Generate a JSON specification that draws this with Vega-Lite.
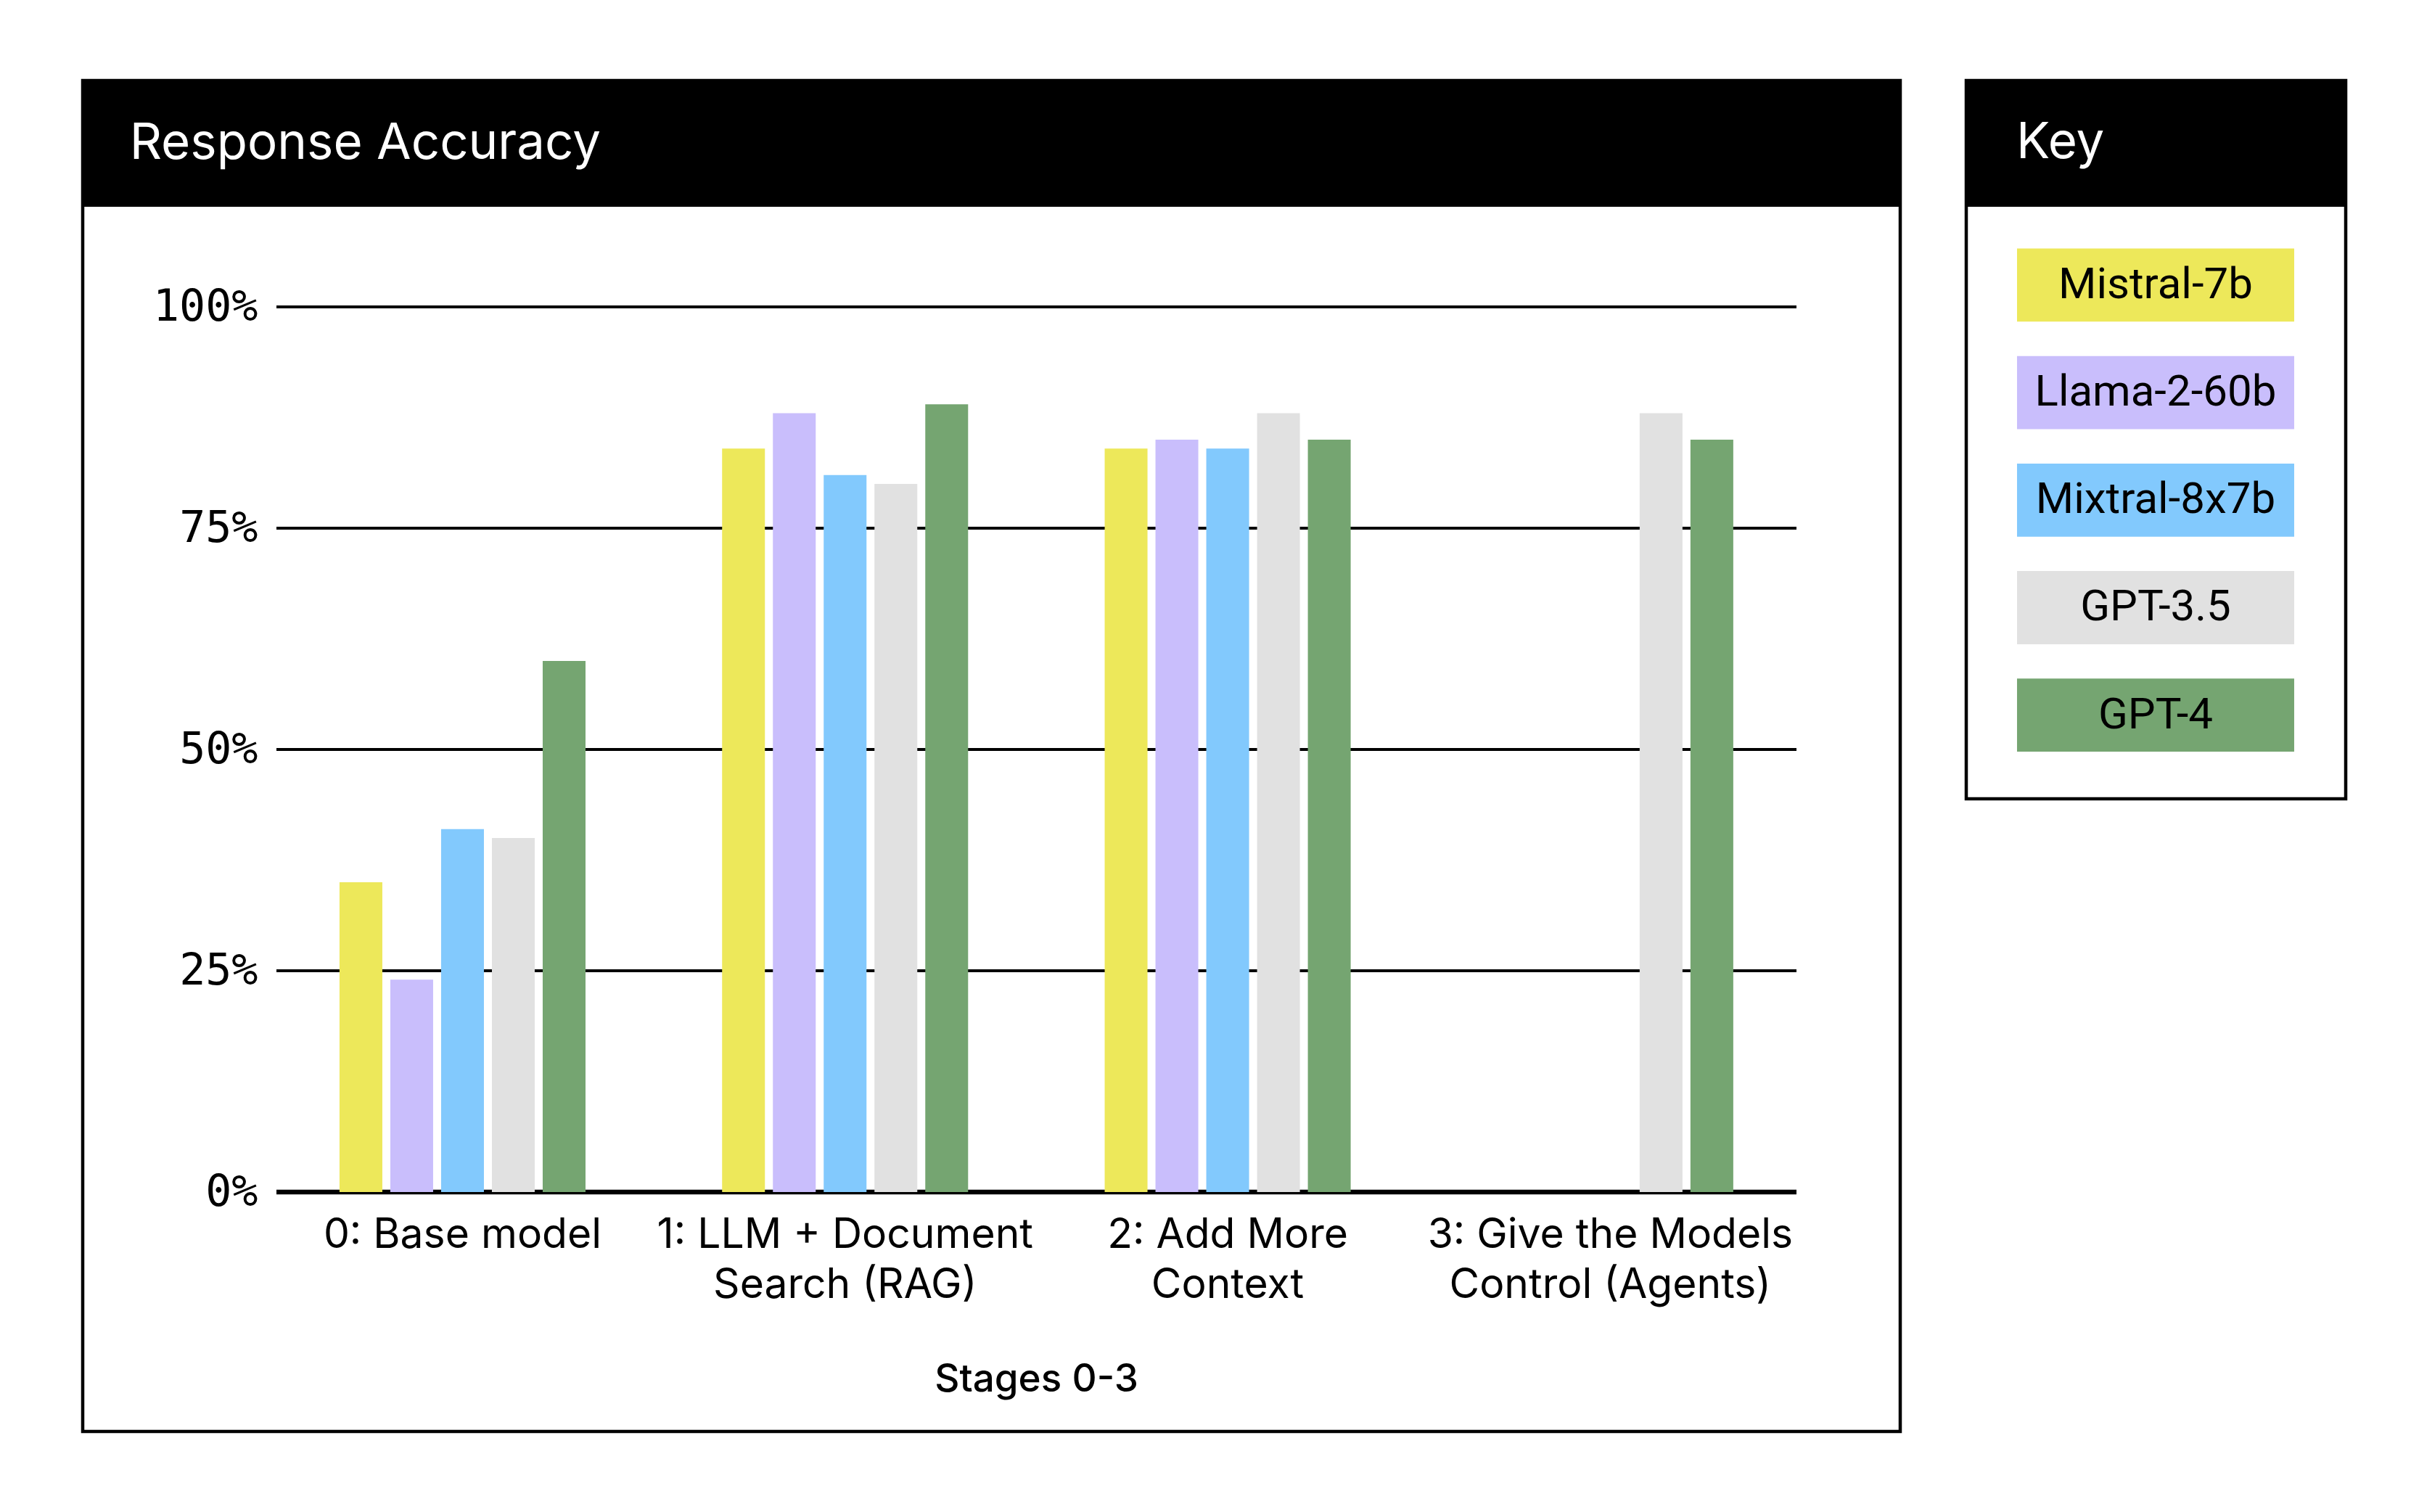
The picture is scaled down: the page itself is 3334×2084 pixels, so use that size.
{
  "$schema": "https://vega.github.io/schema/vega-lite/v6.json",
  "background": "white",
  "padding": {"left": 111, "top": 108, "right": 5, "bottom": 5},
  "spacing": 85,
  "datasets": {
    "scores": [
      {"stage": "0: Base model", "model": "Mistral-7b", "accuracy": 35},
      {"stage": "0: Base model", "model": "Llama-2-60b", "accuracy": 24},
      {"stage": "0: Base model", "model": "Mixtral-8x7b", "accuracy": 41},
      {"stage": "0: Base model", "model": "GPT-3.5", "accuracy": 40},
      {"stage": "0: Base model", "model": "GPT-4", "accuracy": 60},
      {"stage": "1: LLM + Document Search (RAG)", "model": "Mistral-7b", "accuracy": 84},
      {"stage": "1: LLM + Document Search (RAG)", "model": "Llama-2-60b", "accuracy": 88},
      {"stage": "1: LLM + Document Search (RAG)", "model": "Mixtral-8x7b", "accuracy": 81},
      {"stage": "1: LLM + Document Search (RAG)", "model": "GPT-3.5", "accuracy": 80},
      {"stage": "1: LLM + Document Search (RAG)", "model": "GPT-4", "accuracy": 89},
      {"stage": "2: Add More Context", "model": "Mistral-7b", "accuracy": 84},
      {"stage": "2: Add More Context", "model": "Llama-2-60b", "accuracy": 85},
      {"stage": "2: Add More Context", "model": "Mixtral-8x7b", "accuracy": 84},
      {"stage": "2: Add More Context", "model": "GPT-3.5", "accuracy": 88},
      {"stage": "2: Add More Context", "model": "GPT-4", "accuracy": 85},
      {"stage": "3: Give the Models Control (Agents)", "model": "GPT-3.5", "accuracy": 88},
      {"stage": "3: Give the Models Control (Agents)", "model": "GPT-4", "accuracy": 85}
    ],
    "ticks": [{"pct": 0}, {"pct": 25}, {"pct": 50}, {"pct": 75}, {"pct": 100}],
    "models": [
      {"model": "Mistral-7b"},
      {"model": "Llama-2-60b"},
      {"model": "Mixtral-8x7b"},
      {"model": "GPT-3.5"},
      {"model": "GPT-4"}
    ]
  },
  "hconcat": [
    {
      "width": 2505,
      "height": 1862,
      "layer": [
        {
          "data": {"values": [{}]},
          "mark": {"type": "rect", "color": "black"},
          "encoding": {
            "y": {"datum": 125.574, "type": "quantitative", "scale": {"domain": [-27.049, 125.574], "nice": false}, "axis": null},
            "y2": {"datum": 111.31}
          }
        },
        {
          "data": {"name": "ticks"},
          "mark": {"type": "rule", "color": "black"},
          "encoding": {
            "x": {"datum": 0, "type": "quantitative", "scale": {"domain": [-12.745, 106.826], "nice": false}, "axis": null},
            "x2": {"datum": 100},
            "y": {"field": "pct", "type": "quantitative", "scale": {"domain": [-27.049, 125.574], "nice": false}, "axis": null},
            "strokeWidth": {"condition": {"test": "datum.pct == 0", "value": 6.5}, "value": 4}
          }
        },
        {
          "data": {"name": "scores"},
          "mark": {"type": "bar"},
          "encoding": {
            "x": {
              "field": "stage",
              "type": "nominal",
              "sort": ["0: Base model", "1: LLM + Document Search (RAG)", "2: Add More Context", "3: Give the Models Control (Agents)"],
              "scale": {"paddingInner": 0.357, "paddingOuter": 0.5538, "align": 0.606},
              "axis": {
                "orient": "bottom",
                "offset": -330,
                "title": null,
                "domain": false,
                "ticks": false,
                "labelAngle": 0,
                "labelLimit": 0,
                "labelFont": "Inter",
                "labelFontSize": 57,
                "labelColor": "black",
                "labelPadding": 31,
                "labelLineHeight": 69,
                "labelExpr": "datum.label == '1: LLM + Document Search (RAG)' ? ['1: LLM + Document', 'Search (RAG)'] : datum.label == '2: Add More Context' ? ['2: Add More', 'Context'] : datum.label == '3: Give the Models Control (Agents)' ? ['3: Give the Models', 'Control (Agents)'] : datum.label"
              }
            },
            "xOffset": {
              "field": "model",
              "sort": ["Mistral-7b", "Llama-2-60b", "Mixtral-8x7b", "GPT-3.5", "GPT-4"],
              "scale": {"paddingInner": 0.157}
            },
            "y": {
              "field": "accuracy",
              "type": "quantitative",
              "scale": {"domain": [-27.049, 125.574], "nice": false},
              "axis": {
                "orient": "left",
                "offset": -267,
                "values": [0, 25, 50, 75, 100],
                "labelExpr": "datum.value + '%'",
                "labelFont": "DejaVu Sans Mono",
                "labelFontSize": 60,
                "labelColor": "black",
                "labelPadding": 26,
                "ticks": false,
                "domain": false,
                "grid": false,
                "title": null
              }
            },
            "color": {
              "field": "model",
              "scale": {
                "domain": ["Mistral-7b", "Llama-2-60b", "Mixtral-8x7b", "GPT-3.5", "GPT-4"],
                "range": ["#EDE85A", "#C9BEFC", "#82C9FD", "#E1E1E1", "#75A571"]
              },
              "legend": null
            }
          }
        },
        {
          "data": {"values": [{"label": "Response Accuracy"}]},
          "mark": {"type": "text", "color": "white", "font": "Inter", "fontSize": 69, "align": "left", "baseline": "middle"},
          "encoding": {
            "x": {"datum": -9.66, "type": "quantitative", "scale": {"domain": [-12.745, 106.826], "nice": false}, "axis": null},
            "y": {"datum": 118.48, "type": "quantitative", "scale": {"domain": [-27.049, 125.574], "nice": false}, "axis": null},
            "text": {"field": "label"}
          }
        },
        {
          "data": {"values": [{"label": "Stages 0-3"}]},
          "mark": {"type": "text", "color": "black", "font": "Inter", "fontSize": 53, "fontWeight": 500, "align": "center", "baseline": "alphabetic"},
          "encoding": {
            "x": {"datum": 50, "type": "quantitative", "scale": {"domain": [-12.745, 106.826], "nice": false}, "axis": null},
            "y": {"datum": -22.54, "type": "quantitative", "scale": {"domain": [-27.049, 125.574], "nice": false}, "axis": null},
            "text": {"field": "label"}
          }
        }
      ],
      "resolve": {"scale": {"x": "independent"}, "axis": {"x": "independent", "y": "independent"}}
    },
    {
      "width": 523,
      "height": 990,
      "layer": [
        {
          "data": {"values": [{}]},
          "mark": {"type": "rect", "color": "black"},
          "encoding": {
            "y": {"datum": 100, "type": "quantitative", "scale": {"domain": [0, 100], "nice": false}, "axis": null},
            "y2": {"datum": 82.42}
          }
        },
        {
          "data": {"values": [{"label": "Key"}]},
          "mark": {"type": "text", "color": "white", "font": "Inter", "fontSize": 69, "align": "left", "baseline": "middle"},
          "encoding": {
            "x": {"datum": 13.2, "type": "quantitative", "scale": {"domain": [0, 100], "nice": false}, "axis": null},
            "y": {"datum": 91.31, "type": "quantitative", "scale": {"domain": [0, 100], "nice": false}, "axis": null},
            "text": {"field": "label"}
          }
        },
        {
          "data": {"name": "models"},
          "mark": {"type": "rect"},
          "encoding": {
            "y": {
              "field": "model",
              "type": "nominal",
              "sort": ["Mistral-7b", "Llama-2-60b", "Mixtral-8x7b", "GPT-3.5", "GPT-4"],
              "scale": {"type": "band", "paddingInner": 0.32, "paddingOuter": 1.0274, "align": 0.781},
              "axis": null
            },
            "x": {"datum": 13.38, "type": "quantitative", "scale": {"domain": [0, 100], "nice": false}, "axis": null},
            "x2": {"datum": 86.42},
            "color": {
              "field": "model",
              "scale": {
                "domain": ["Mistral-7b", "Llama-2-60b", "Mixtral-8x7b", "GPT-3.5", "GPT-4"],
                "range": ["#EDE85A", "#C9BEFC", "#82C9FD", "#E1E1E1", "#75A571"]
              },
              "legend": null
            }
          }
        },
        {
          "data": {"name": "models"},
          "mark": {"type": "text", "color": "black", "font": "Roboto", "fontSize": 60, "align": "center", "baseline": "middle"},
          "encoding": {
            "y": {
              "field": "model",
              "type": "nominal",
              "sort": ["Mistral-7b", "Llama-2-60b", "Mixtral-8x7b", "GPT-3.5", "GPT-4"],
              "scale": {"type": "band", "paddingInner": 0.32, "paddingOuter": 1.0274, "align": 0.781},
              "axis": null
            },
            "x": {"datum": 49.9, "type": "quantitative", "scale": {"domain": [0, 100], "nice": false}, "axis": null},
            "text": {"field": "model"}
          }
        }
      ],
      "resolve": {"scale": {"y": "independent"}}
    }
  ],
  "config": {
    "view": {"stroke": "black", "strokeWidth": 4.5}
  }
}
